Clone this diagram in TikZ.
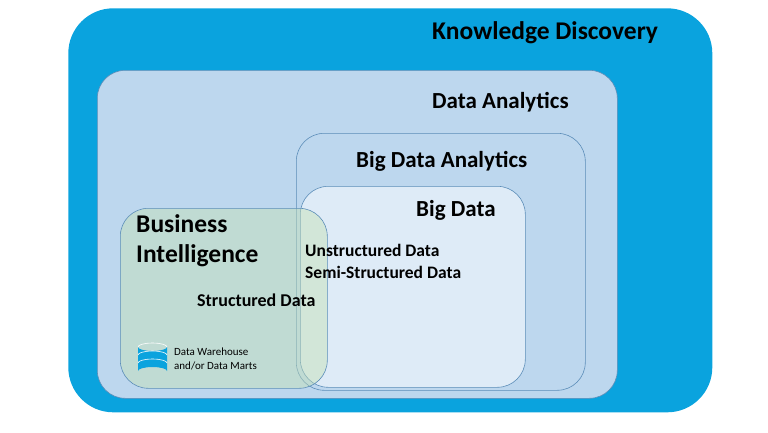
\documentclass[tikz,border=0pt]{standalone}
\usepackage{fontspec}
\setmainfont{Carlito}
\usetikzlibrary{positioning,shapes.geometric}
\definecolor{kdblue}{HTML}{0AA3DE}
\definecolor{dablue}{HTML}{BDD7EE}
\definecolor{bdblue}{HTML}{DEEBF7}
\definecolor{bigreen}{HTML}{C5E0B4}
\definecolor{edgeblue}{HTML}{5B8DB8}
\begin{document}
\begin{tikzpicture}[
    x=1pt, y=-1pt,
    area/.style={rounded corners=#1, anchor=north west, draw=edgeblue, line width=0.6pt},
    area/.default=28pt,
    title/.style={font=\bfseries, anchor=west, inner sep=0pt},
  ]
    \useasboundingbox (0,0) rectangle (768,432);
    % Knowledge Discovery
    \node[area=45pt, fill=kdblue, draw=none, minimum width=644pt, minimum height=404pt] (kd) at (68,8) {};
    \node[title, font=\bfseries\fontsize{25.5}{30}\selectfont] (kdt) at (432,33) {Knowledge Discovery};
    % Data Analytics
    \node[area, fill=dablue, minimum width=520pt, minimum height=328pt] (da) at (97,70) {};
    \node[title, font=\bfseries\fontsize{23}{27}\selectfont] (dat) at (432,102) {Data Analytics};
    % Big Data Analytics
    \node[area, fill=dablue, minimum width=289pt, minimum height=257pt] (bda) at (296,133) {};
    \node[title, font=\bfseries\fontsize{23}{27}\selectfont] (bdat) at (356,161) {Big Data Analytics};
    % Big Data
    \node[area, fill=bdblue, minimum width=225pt, minimum height=201pt] (bd) at (300,186) {};
    \node[title, font=\bfseries\fontsize{23}{27}\selectfont] (bdt) at (416,210) {Big Data};
    % Business Intelligence
    \node[area, fill=bigreen, fill opacity=0.45, minimum width=207pt, minimum height=180pt] (bi) at (120,208) {};
    \node[title, font=\bfseries\fontsize{25.5}{30}\selectfont, align=left, anchor=north west] (bit) at (136,214) {Business\\Intelligence};
    \node[title, font=\bfseries\fontsize{18}{22}\selectfont] (sd) at (197,300) {Structured Data};
    \node[title, font=\bfseries\fontsize{17.5}{22}\selectfont, align=left, anchor=north west] (unst) at (305,244) {Unstructured Data\\Semi-Structured Data};
    % Data warehouse
    \coordinate (dw) at (167,359);
    \fill[kdblue] (138,347) -- (138,371) arc[x radius=14.5, y radius=4, start angle=180, end angle=360] -- (167,347) arc[x radius=14.5, y radius=4, start angle=0, end angle=180] -- cycle;
    \draw[white, line width=0.6pt] (138,347) arc[x radius=14.5, y radius=4, start angle=180, end angle=360];
    \draw[white, line width=0.6pt] (138,355) arc[x radius=14.5, y radius=4, start angle=180, end angle=360];
    \draw[white, line width=0.6pt] (138,363) arc[x radius=14.5, y radius=4, start angle=180, end angle=360];
    \node[title, font=\fontsize{11}{14}\selectfont, align=left, right=7pt of dw, anchor=west] (dwt) {Data Warehouse\\and/or Data Marts};
  \end{tikzpicture}
\end{document}
